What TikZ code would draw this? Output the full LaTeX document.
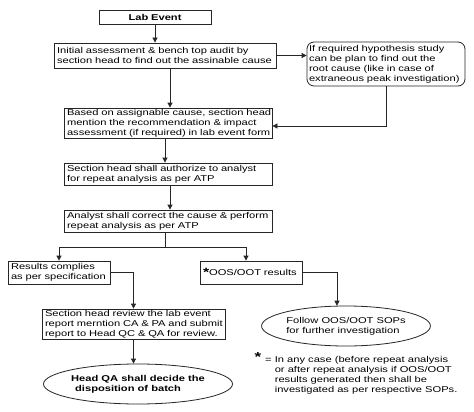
\documentclass[tikz,border=0pt]{standalone}
\usepackage{fontspec}
\setmainfont[FakeStretch=1.31]{Liberation Sans}
\usetikzlibrary{arrows.meta,shapes.geometric}
\begin{document}
\begin{tikzpicture}[x=1pt,y=-1pt,
  font=\fontsize{8.5}{10}\selectfont,
  box/.style={draw=black!85, line width=0.8pt, rectangle, align=left, inner xsep=3pt, inner ysep=1pt},
  oval/.style={draw=black!85, line width=0.8pt, ellipse, align=left, inner sep=0pt},
  conn/.style={draw=black!85, line width=0.8pt, -{Triangle[width=5pt,length=5pt]}},
  plain/.style={draw=black!85, line width=0.8pt}]
\useasboundingbox (0,0) rectangle (474,412);
\fill[white] (0,0) rectangle (474,412);

\node[box, text width=106pt, minimum height=14pt, align=center, font=\fontsize{8.5}{10}\selectfont\bfseries] (lab) at (155,17) {Lab Event};
\node[box, text width=216pt, minimum height=25pt] (init) at (165,55.5)
  {\mbox{Initial assessment \& bench top audit by}\\\mbox{section head to find out the assinable cause}};
\node[box, rounded corners=7pt, inner xsep=2pt, text width=154pt, minimum height=44pt] (hyp) at (386,64)
  {\mbox{If required hypothesis study}\\\mbox{can be plan to find out the}\\\mbox{root cause (like in case of}\\\mbox{extraneous peak investigation)}};
\node[box, text width=202pt, minimum height=30pt] (based) at (168,123)
  {\mbox{Based on assignable cause, section head}\\\mbox{mention the recommendation \& impact}\\\mbox{assessment (if required) in lab event form}};
\node[box, text width=202pt, minimum height=22pt] (auth) at (168,174)
  {\mbox{Section head shall authorize to analyst}\\\mbox{for repeat analysis as per ATP}};
\node[box, text width=202pt, minimum height=22pt] (analyst) at (168,221)
  {\mbox{Analyst shall correct the cause \& perform}\\\mbox{repeat analysis as per ATP}};
\node[box, text width=96pt, minimum height=23pt] (results) at (59,272.5)
  {\mbox{Results complies}\\\mbox{as per specification}};
\node[box, text width=96pt, minimum height=23pt] (oos) at (251,272.5)
  {\mbox{\raisebox{-1pt}{\fontsize{12}{10}\selectfont\bfseries *}OOS/OOT results}};
\node[box, text width=177pt, minimum height=30pt] (review) at (133.5,324)
  {\mbox{Section head review the lab event}\\\mbox{report merntion CA \& PA and submit}\\\mbox{report to Head QC \& QA for review.}};
\node[oval, minimum width=138pt, minimum height=40pt] (follow) at (346,326)
  {Follow OOS/OOT SOPs\\for further investigation};
\node[oval, minimum width=168pt, minimum height=40pt, font=\fontsize{8.5}{10}\selectfont\bfseries] (headqa) at (138,384)
  {Head QA shall decide the\\\hspace*{4pt}disposition of batch};
\node[inner sep=0pt, font=\fontsize{13}{10}\selectfont\bfseries] (star) at (258,357) {*};
\node[inner sep=0pt, anchor=north west, align=left] (note) at (265,356)
  {= In any case (before repeat analysis\\\phantom{= }or after repeat analysis if OOS/OOT\\\phantom{= }results generated then shall be\\\phantom{= }investigated as per respective SOPs.};

\draw[conn] (lab.south) -- (lab.south |- init.north);
\draw[conn] (init.east) -- (init.east -| hyp.west);
\draw[conn] ([xshift=5pt]init.south) -- ([xshift=5pt]init.south |- based.north);
\draw[conn] (hyp.south) |- ([yshift=-3pt]based.east);
\draw[conn] ([xshift=-3pt]based.south) -- ([xshift=-3pt]based.south |- auth.north);
\draw[conn] ([xshift=2pt]auth.south) -- ([xshift=2pt]auth.south |- analyst.north);
\coordinate (split) at (165,247);
\draw[plain] (split |- analyst.south) -- (split);
\draw[conn] (split) -| (results.north);
\draw[conn] (split) -| ([xshift=-5pt]oos.north);
\draw[conn] (results.east) -| (review.north);
\draw[conn] (oos.east) -| (follow.114);
\draw[conn] (review.south) -- (review.south |- headqa.north);
\end{tikzpicture}
\end{document}
